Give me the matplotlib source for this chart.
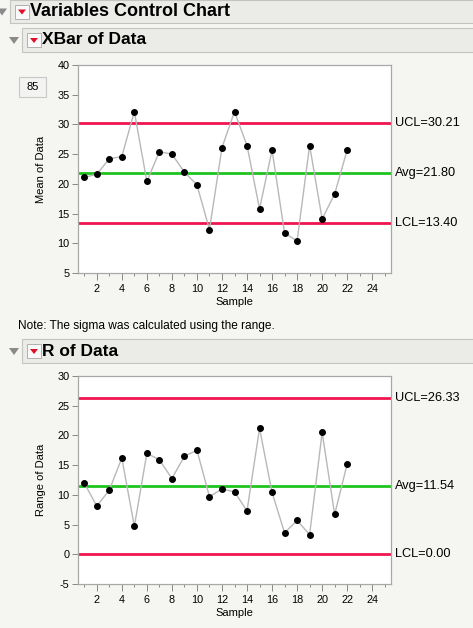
import matplotlib
matplotlib.use("Agg")
import matplotlib.pyplot as plt
from matplotlib.patches import Rectangle, Polygon
from matplotlib.ticker import MultipleLocator

plt.rcParams['font.family'] = ['Liberation Sans', 'DejaVu Sans']
plt.rcParams['axes.unicode_minus'] = False

samples = list(range(1, 23))
xbar_values = [21.07, 21.63, 24.2, 24.6, 32.16, 20.4, 25.4, 25.0, 21.97, 19.84, 12.3,
               26.1, 32.16, 26.45, 15.8, 25.67, 11.72, 10.4, 26.45, 14.1, 18.3, 25.7]
range_values = [12.0, 8.1, 10.8, 16.2, 4.7, 17.0, 15.9, 12.75, 16.5, 17.5, 9.7,
                11.0, 10.5, 7.3, 21.2, 10.4, 3.6, 5.7, 3.3, 20.5, 6.7, 15.2]
xbar_limits = {"UCL": 30.21, "Avg": 21.80, "LCL": 13.40}
range_limits = {"UCL": 26.33, "Avg": 11.54, "LCL": 0.00}
x_ticks = list(range(2, 25, 2))
xbar_yticks = list(range(5, 41, 5))
range_yticks = list(range(-5, 31, 5))

W, H = 473, 628
BG = '#f5f5f1'
fig = plt.figure(figsize=(W / 100, H / 100), dpi=100, facecolor=BG)


def fx(x):
    return x / W


def fy(y):
    return 1 - y / H


def header(x0, y0, y1, text, size):
    fig.patches.append(Rectangle((fx(x0), fy(y1)), fx(W - x0 + 2), fy(y0) - fy(y1),
                                 transform=fig.transFigure, facecolor='#ebebe7',
                                 edgecolor='#c4c4c0', lw=0.8))
    yc = (y0 + y1) / 2
    # disclosure triangle
    tx = x0 - 8
    fig.patches.append(Polygon([(fx(tx - 5), fy(yc - 3)), (fx(tx + 5), fy(yc - 3)), (fx(tx), fy(yc + 4))],
                               closed=True, transform=fig.transFigure, facecolor='#8a8a8a', edgecolor='none'))
    # red dropdown button
    bx = x0 + 5
    fig.patches.append(Rectangle((fx(bx), fy(yc + 7)), fx(14), fy(yc - 7) - fy(yc + 7),
                                 transform=fig.transFigure, facecolor='#fafafa',
                                 edgecolor='#b0b0b0', lw=0.7))
    fig.patches.append(Polygon([(fx(bx + 3), fy(yc - 2)), (fx(bx + 11), fy(yc - 2)), (fx(bx + 7), fy(yc + 3))],
                               closed=True, transform=fig.transFigure, facecolor='#e0102a', edgecolor='none'))
    fig.text(fx(bx + 15), fy(yc), text, fontsize=size, fontweight='bold',
             ha='left', va='center', color='black')


header(10, 0, 23, 'Variables Control Chart', 13)
header(22, 28, 52, 'XBar of Data', 12.5)
header(22, 339, 363, 'R of Data', 12.5)

# "85" box
fig.patches.append(Rectangle((fx(19), fy(97)), fx(27), fy(77) - fy(97),
                             transform=fig.transFigure, facecolor='#f3f3f1',
                             edgecolor='#c8c8c8', lw=0.8))
fig.text(fx(32.5), fy(87), '85', fontsize=8, ha='center', va='center')

fig.text(fx(18), fy(326), 'Note: The sigma was calculated using the range.',
         fontsize=8.6, ha='left', va='center')

RED = '#f0154f'
GREEN = '#1fc41f'


def chart(top, bottom, values, limits, yticks, ylabel):
    ax = fig.add_axes([fx(78), fy(bottom), fx(391 - 78), fy(top) - fy(bottom)])
    ax.set_facecolor('white')
    for s in ax.spines.values():
        s.set_color('#a8a8a8')
        s.set_linewidth(0.9)
    ax.set_xlim(0.5, 25.5)
    ax.set_ylim(yticks[0], yticks[-1])
    ax.set_yticks(yticks)
    ax.set_xticks(x_ticks)
    ax.xaxis.set_minor_locator(MultipleLocator(1))
    ax.tick_params(axis='both', which='major', labelsize=7.8, color='#888888', length=4, width=0.7, pad=2)
    ax.tick_params(axis='x', which='minor', color='#888888', length=2.5, width=0.7)
    ax.tick_params(axis='x', which='major', length=5, pad=3)
    for key in ('UCL', 'LCL'):
        ax.axhline(limits[key], color=RED, lw=2, zorder=2)
        ax.text(1.014, limits[key], f'{key}={limits[key]:.2f}', transform=ax.get_yaxis_transform(),
                fontsize=9.2, ha='left', va='center', clip_on=False)
    ax.axhline(limits['Avg'], color=GREEN, lw=2, zorder=2)
    ax.text(1.014, limits['Avg'], f'Avg={limits["Avg"]:.2f}', transform=ax.get_yaxis_transform(),
            fontsize=9.2, ha='left', va='center', clip_on=False)
    ax.plot(samples, values, color='#b8b8b8', lw=1, zorder=3)
    ax.plot(samples, values, 'o', color='black', markersize=4, zorder=4)
    ax.set_xlabel('Sample', fontsize=8, labelpad=2)
    ax.set_ylabel(ylabel, fontsize=8, labelpad=8)
    return ax


chart(65, 273, xbar_values, xbar_limits, xbar_yticks, 'Mean of Data')
chart(376, 584, range_values, range_limits, range_yticks, 'Range of Data')

fig.savefig('out.png', dpi=100, facecolor=BG)
